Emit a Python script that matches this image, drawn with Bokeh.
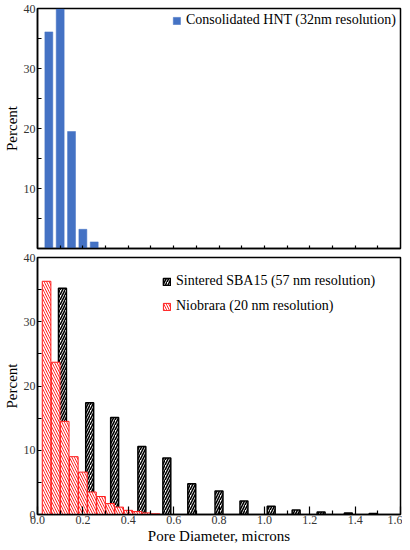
from bokeh.plotting import figure
from bokeh.layouts import column
from bokeh.models import FixedTicker, PrintfTickFormatter, Legend, LegendItem
from bokeh.embed import file_html
from bokeh.resources import INLINE

# ---- data ----
hnt_x = [0.05, 0.10, 0.15, 0.20, 0.25]
hnt_pct = [36.1, 39.9, 19.5, 3.2, 1.1]

sba_x = [0.11, 0.23, 0.34, 0.46, 0.57, 0.68, 0.80, 0.91, 1.03, 1.14, 1.25, 1.37, 1.48]
sba_pct = [35.2, 17.4, 15.1, 10.6, 8.8, 4.8, 3.65, 2.1, 1.3, 0.7, 0.4, 0.25, 0.15]

nio_x = [0.04, 0.08, 0.12, 0.16, 0.20, 0.24, 0.28, 0.32, 0.36, 0.40, 0.44, 0.48, 0.52]
nio_pct = [36.3, 23.7, 14.5, 9.0, 6.6, 3.5, 2.8, 1.7, 1.15, 0.65, 0.45, 0.25, 0.1]

x_major = [0.0, 0.2, 0.4, 0.6, 0.8, 1.0, 1.2, 1.4, 1.6]
x_minor = [0.1, 0.3, 0.5, 0.7, 0.9, 1.1, 1.3, 1.5]
x_top_ticks = [0.1, 0.2, 0.3, 0.4, 0.5, 0.6, 0.7, 0.8, 0.9, 1.0, 1.1, 1.2, 1.3, 1.4, 1.5]
y_top_major = [10, 20, 30, 40]
y_bot_major = [0, 10, 20, 30, 40]
y_minor = [5, 15, 25, 35]

labels = ["Consolidated HNT (32nm resolution)",
          "Sintered SBA15 (57 nm resolution)",
          "Niobrara (20 nm resolution)"]

FONT = "Liberation Serif, Times New Roman, DejaVu Serif, serif"


def style(p):
    p.xgrid.grid_line_color = None
    p.ygrid.grid_line_color = None
    p.outline_line_color = "black"
    p.outline_line_width = 1.5
    p.background_fill_color = "white"
    p.border_fill_color = "white"
    for ax in p.axis:
        ax.axis_line_width = 1.5
        ax.axis_line_color = "black"
        ax.major_tick_line_color = "black"
        ax.minor_tick_line_color = "black"
        ax.major_tick_line_width = 1.2
        ax.minor_tick_line_width = 1.2
        ax.major_tick_out = 0
        ax.minor_tick_out = 0
        ax.major_tick_in = 4
        ax.minor_tick_in = 4
        ax.major_label_text_font = FONT
        ax.major_label_text_font_size = "12px"
        ax.major_label_text_color = "#333333"
        ax.major_label_standoff = 2
        ax.axis_label_text_font = FONT
        ax.axis_label_text_font_size = "15px"
        ax.axis_label_text_font_style = "normal"
        ax.axis_label_text_color = "black"
        ax.axis_label_standoff = 1


def style_legend(lg):
    lg.border_line_color = None
    lg.background_fill_alpha = 0
    lg.label_text_font = FONT
    lg.label_text_font_size = "14px"
    lg.label_text_color = "black"
    lg.glyph_width = 9
    lg.glyph_height = 9
    lg.label_height = 16
    lg.label_standoff = 5
    lg.spacing = 9
    lg.padding = 2
    lg.margin = 2


# ---- top panel ----
p1 = figure(frame_width=363, frame_height=240, x_range=(0, 1.6), y_range=(0, 40),
            output_backend="svg", toolbar_location=None,
            min_border_top=8, min_border_bottom=2, min_border_right=2, min_border_left=0)
r_hnt = p1.vbar(x=hnt_x, top=hnt_pct, width=0.035, bottom=0,
                fill_color="#4472C4", line_color="#4472C4", line_width=0.5)
p1.xaxis.ticker = FixedTicker(ticks=x_top_ticks)
p1.yaxis.ticker = FixedTicker(ticks=y_top_major, minor_ticks=y_minor)
p1.yaxis.axis_label = "Percent"
style(p1)
p1.xaxis.major_label_text_font_size = "1px"
p1.xaxis.major_label_text_color = None
p1.xaxis.major_label_standoff = 0
p1.xaxis.major_tick_in = 3
lg1 = Legend(items=[LegendItem(label=labels[0], renderers=[r_hnt])])
style_legend(lg1)
lg1.location = "top_right"
lg1.margin = 4
p1.add_layout(lg1)

# ---- bottom panel ----
p2 = figure(frame_width=363, frame_height=257, x_range=(0, 1.6), y_range=(0, 40),
            output_backend="svg", toolbar_location=None,
            min_border_top=7, min_border_bottom=0, min_border_right=2, min_border_left=0)
r_sba = p2.vbar(x=sba_x, top=sba_pct, width=0.035, bottom=0,
                fill_color="white", line_color="black", line_width=1.5,
                hatch_pattern="/", hatch_color="black", hatch_scale=5, hatch_weight=1.6)
r_nio = p2.vbar(x=nio_x, top=nio_pct, width=0.038, bottom=0,
                fill_color="#FF0000", line_color="#FF2020", line_width=1,
                hatch_pattern="\\", hatch_color="white", hatch_scale=5, hatch_weight=1.5)
p2.xaxis.ticker = FixedTicker(ticks=x_major, minor_ticks=x_minor)
p2.xaxis.formatter = PrintfTickFormatter(format="%.1f")
p2.yaxis.ticker = FixedTicker(ticks=y_bot_major, minor_ticks=y_minor)
p2.xaxis.axis_label = "Pore Diameter, microns"
p2.yaxis.axis_label = "Percent"
style(p2)
p2.xaxis.major_tick_in = 8
p2.xaxis.minor_tick_in = 4
p2.xaxis.major_label_standoff = 1
lg2 = Legend(items=[LegendItem(label=labels[1], renderers=[r_sba]),
                    LegendItem(label=labels[2], renderers=[r_nio])])
style_legend(lg2)
# bottom-left corner of the legend box, in screen px from the frame's bottom-left
lg2.location = (125, 257 - 12 - 45)
p2.add_layout(lg2)

layout = column(p1, p2, spacing=0)
open("out.html", "w").write(file_html(layout, INLINE))
